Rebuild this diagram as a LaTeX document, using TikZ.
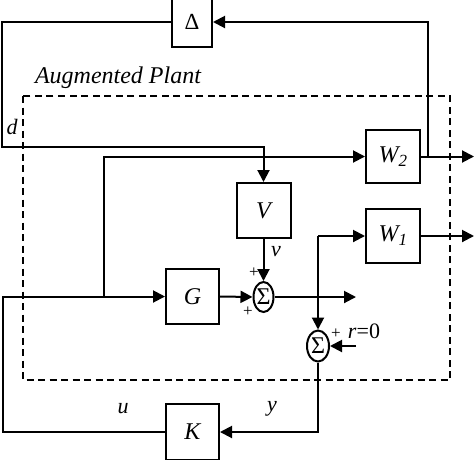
\documentclass[tikz,border=0pt]{standalone}
\usepackage{fontspec}
\setmainfont{Liberation Serif}
\usetikzlibrary{arrows.meta,shapes.geometric,calc}
\newcommand{\sumsym}{\raisebox{-0.33em}[0pt][0pt]{\makebox[0pt]{Σ}}}
\begin{document}
\begin{tikzpicture}[x=1pt,y=-1pt,
  line width=2pt,
  blk/.style={draw,rectangle,inner sep=0pt,font=\fontsize{24}{26}\selectfont\itshape},
  sumn/.style={draw,ellipse,inner sep=0pt,minimum width=20pt,minimum height=30pt,font=\fontsize{24}{26}\selectfont},
  arr/.style={-{Triangle[length=12pt,width=12pt]}},
  lbl/.style={font=\fontsize{22}{24}\selectfont\itshape,inner sep=0pt},
  pls/.style={font=\fontsize{17}{18}\selectfont,inner sep=0pt},
  plant/.style={draw,dashed,dash pattern=on 7pt off 4.5pt,line width=1.8pt}]
\useasboundingbox (0,0) rectangle (474,459);
% blocks
\node[blk,minimum width=40pt,minimum height=50pt,font=\fontsize{23}{25}\selectfont] (delta) at (192,22) {Δ};
\node[blk,minimum width=53pt,minimum height=56pt] (K) at (192.5,432) {K};
\node[blk,minimum width=53pt,minimum height=55pt] (G) at (192.5,296.5) {G};
\node[blk,minimum width=54pt,minimum height=55pt] (V) at (263.5,210.5) {V};
\node[blk,minimum width=54pt,minimum height=53pt] (W2) at (393,156.5) {W\textsubscript{\fontsize{17}{18}\selectfont 2}};
\node[blk,minimum width=54pt,minimum height=54pt] (W1) at (393,236) {W\textsubscript{\fontsize{17}{18}\selectfont 1}};
\node[sumn] (s1) at (263.5,297) {\sumsym};
\node[sumn,minimum width=22pt,minimum height=31pt] (s2) at (318,346) {\sumsym};
% plant boundary
\draw[plant] (23,96) rectangle (450,380);
\node[lbl,font=\fontsize{24}{26}\selectfont\itshape] (ap) at (118,78) {Augmented Plant};
% coordinates
\coordinate (lt) at (2,147);
\coordinate (lf) at (3,296.5);
\coordinate (jG) at (104,296.5);
\coordinate (jW) at (318,236);
\coordinate (out1) at (356,297);
\coordinate (rin) at (356,346);
\coordinate (o2) at (474,156.5);
\coordinate (o1) at (474,236);
\coordinate (fb) at (428,156.5);
% connectors
\draw[arr] (delta.west) -| (lt) -| (V.north);
\draw[arr] (K.west) -| (lf) -- (G.west);
\draw[arr] (jG) |- (W2.west);
\draw[arr] (G.east) -- (s1.west);
\draw[arr] (V.south) -- (s1.north);
\draw[arr] (s1.east) -- (out1);
\draw[arr] (jW) -- (W1.west);
\draw[arr] (jW) -- (s2.north);
\draw[arr] (rin) -- (s2.east);
\draw[arr] (s2.south) |- (K.east);
\draw[arr] (W2.east) -- (o2);
\draw[arr] (fb) |- (delta.east);
\draw[arr] (W1.east) -- (o1);
% labels
\node[lbl] (ld) at (12,127) {d};
\node[lbl] (lv) at (276,252) {v};
\node[lbl] (lu) at (123,409) {u};
\node[lbl] (ly) at (272,409) {y};
\node[lbl,font=\fontsize{22}{24}\selectfont] (lr) at (364,331) {\textit{r}=0};
\node[pls] (p1) at (254,273) {+};
\node[pls] (p2) at (248,312) {+};
\node[pls] (p3) at (336,334) {+};
\end{tikzpicture}
\end{document}
